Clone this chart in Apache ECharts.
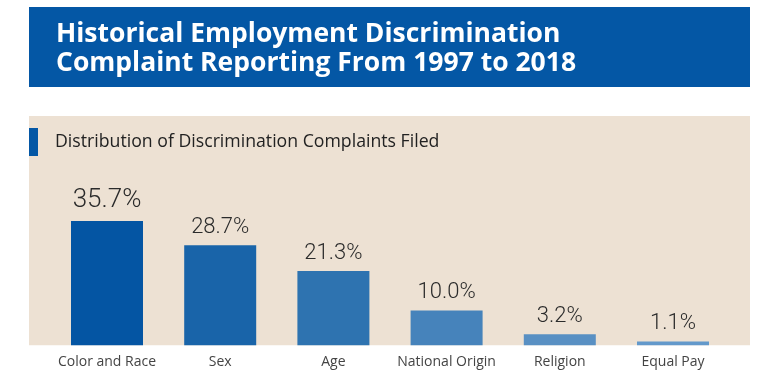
<!DOCTYPE html>
<html>
<head>
<meta charset="utf-8">
<script src="https://cdn.jsdelivr.net/npm/echarts@6/dist/echarts.min.js"></script>
<style>
html,body{margin:0;padding:0;background:#fff;}
#chart{width:768px;height:373px;}
</style>
</head>
<body>
<div id="chart"></div>
<script>
const titleLines = ['Historical Employment Discrimination', 'Complaint Reporting From 1997 to 2018'];
const subtitle = 'Distribution of Discrimination Complaints Filed';
const categories = ['Color and Race', 'Sex', 'Age', 'National Origin', 'Religion', 'Equal Pay'];
const values = [35.7, 28.7, 21.3, 10.0, 3.2, 1.1];
const barColors = ['#0455A3', '#1964A9', '#2E73B0', '#4683BB', '#5990C3', '#6399CB'];
const labelSizes = [26, 22, 22, 22, 22, 22];

const chart = echarts.init(document.getElementById('chart'), null, {renderer: 'canvas'});
chart.setOption({
  backgroundColor: '#ffffff',
  animation: false,
  graphic: [
    {type: 'rect', shape: {x: 29, y: 7, width: 721, height: 80}, style: {fill: '#0457A5'}, z: 0},
    {type: 'rect', shape: {x: 29, y: 116, width: 721, height: 229.3}, style: {fill: '#EDE1D3'}, z: 0},
    {type: 'rect', shape: {x: 29, y: 128, width: 9, height: 28}, style: {fill: '#0457A5'}, z: 1},
    {type: 'text', x: 55, y: 142, style: {text: subtitle, fill: '#222222', font: '17.7px "Open Sans"', textVerticalAlign: 'middle'}, z: 2},
    {type: 'text', x: 56, y: 19.5, style: {text: titleLines.join('\n'), fill: '#ffffff', font: 'bold 26.5px "Open Sans"', lineHeight: 29, textVerticalAlign: 'top'}, z: 2}
  ],
  grid: {left: 50.4, width: 679.2, top: 206, height: 139.3, containLabel: false},
  xAxis: {
    type: 'category',
    data: categories,
    axisLine: {show: false},
    axisTick: {show: false},
    axisLabel: {interval: 0, color: '#444444', fontSize: 14, fontFamily: 'Open Sans', margin: 10}
  },
  yAxis: {
    type: 'value', min: 0, max: 40,
    show: false,
    splitLine: {show: false}
  },
  series: [{
    type: 'bar',
    barWidth: 72,
    data: values.map((v, i) => ({
      value: v,
      itemStyle: {color: barColors[i]},
      label: {fontSize: labelSizes[i]}
    })),
    label: {
      show: true,
      position: 'top',
      distance: 7,
      color: '#2b2b2b',
      fontFamily: 'Roboto',
      fontWeight: 300,
      formatter: p => p.value.toFixed(1) + '%'
    }
  }]
});
</script>
</body>
</html>
